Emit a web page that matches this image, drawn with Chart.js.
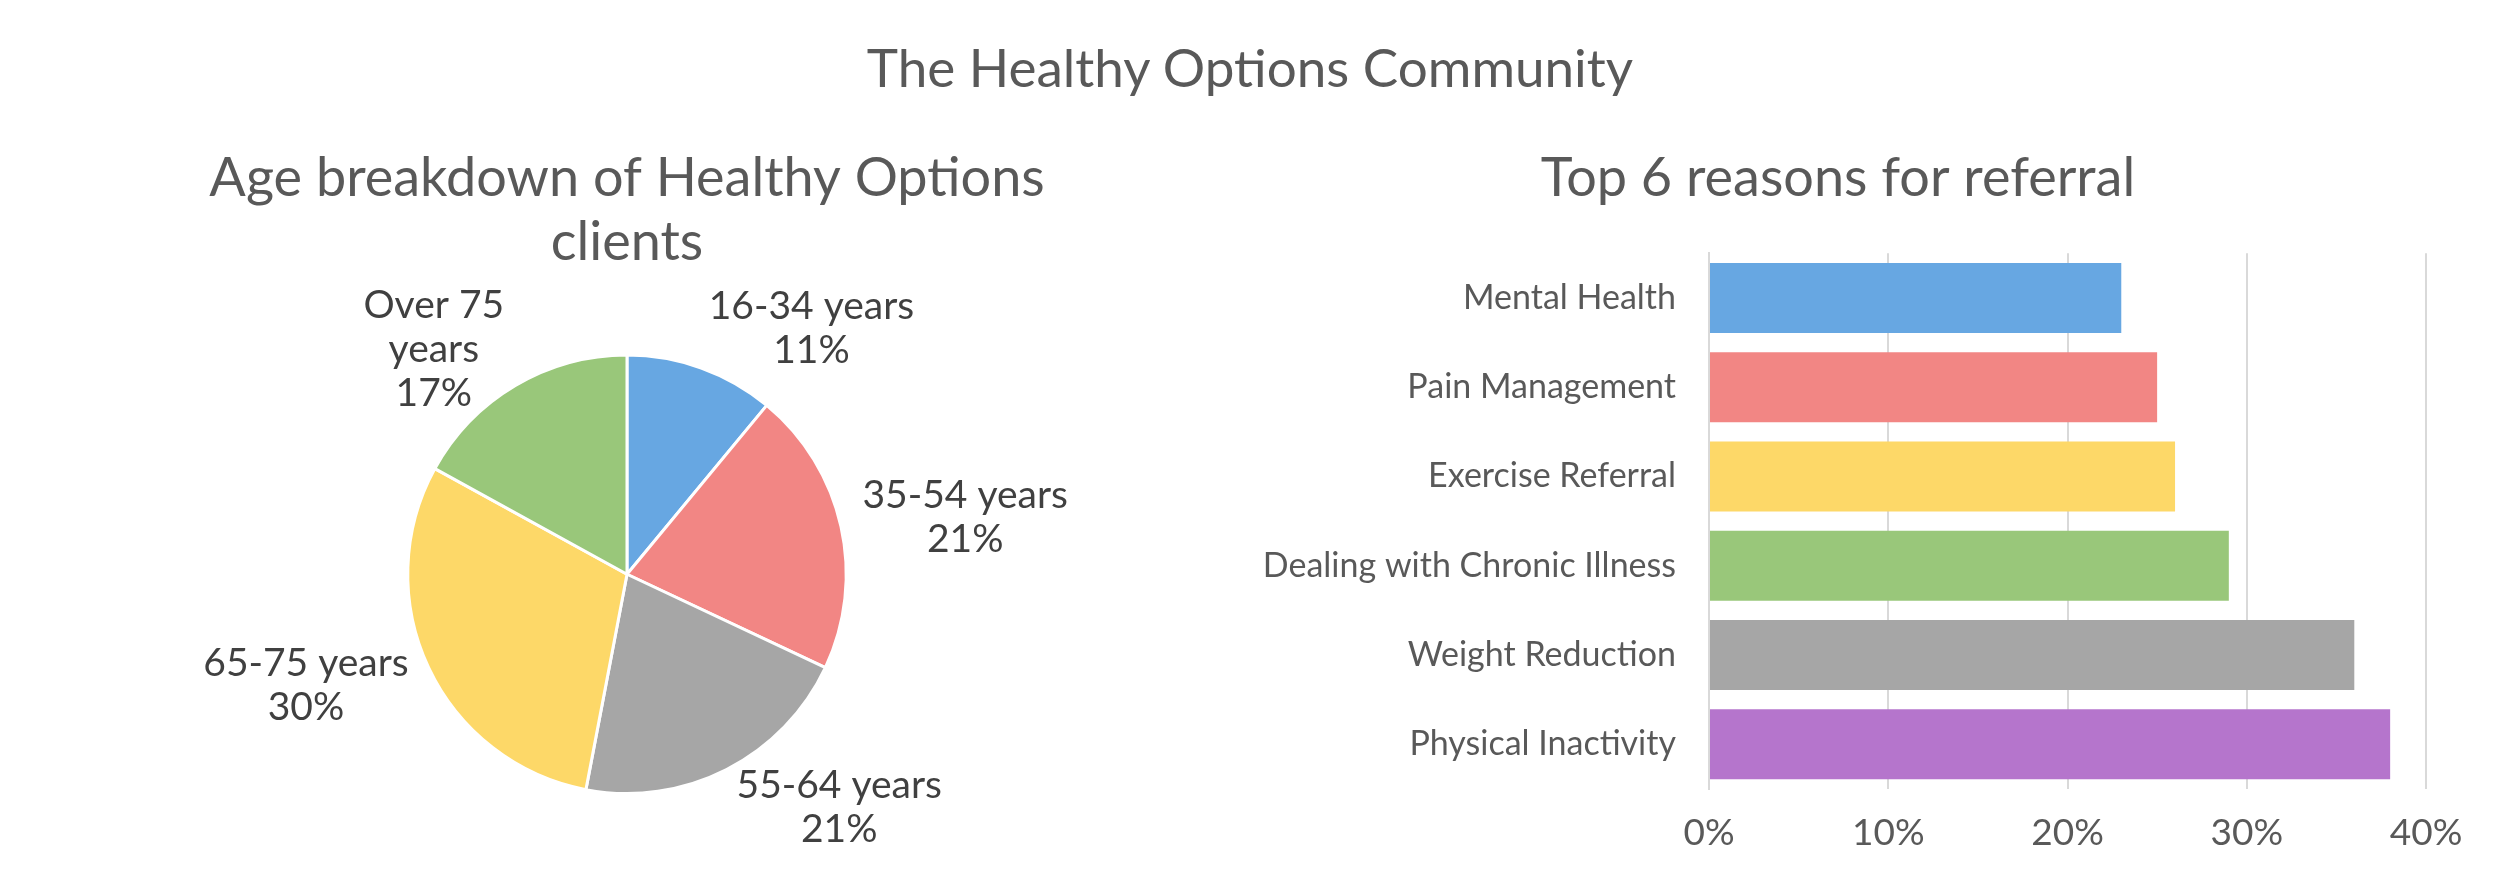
<!DOCTYPE html>
<html>
<head>
<meta charset="utf-8">
<script src="https://cdn.jsdelivr.net/npm/chart.js@4"></script>
<style>
  body { margin: 0; background: #fff; }
  #wrap { position: relative; width: 2500px; height: 874px; }
  #main-title {
    position: absolute; left: 0; top: 35px; width: 2500px;
    text-align: center; font: 53px/64px Lato, sans-serif; color: #595959;
  }
  .panel { position: absolute; top: 0; width: 1250px; height: 874px; }
</style>
</head>
<body>
<div id="wrap">
  <div id="main-title">The Healthy Options Community</div>
  <div class="panel" style="left:0"><canvas id="ageChart" width="1250" height="874"></canvas></div>
  <div class="panel" style="left:1250px"><canvas id="referralChart" width="1250" height="874"></canvas></div>
</div>
<script>
// Age breakdown (pie)
const ageLabels = ['16-34 years', '35-54 years', '55-64 years', '65-75 years', ['Over 75', 'years']];
const ageShares = [11, 21, 21, 30, 17];
const ageColors = ['#67A7E2', '#F28684', '#A6A6A6', '#FDD868', '#99C77A'];

// Top 6 reasons (horizontal bars), percent
const reasonLabels = ['Mental Health', 'Pain Management', 'Exercise Referral',
  'Dealing with Chronic Illness', 'Weight Reduction', 'Physical Inactivity'];
const reasonShares = [23, 25, 26, 29, 36, 38];
const reasonColors = ['#67A7E2', '#F28684', '#FDD868', '#99C77A', '#A6A6A6', '#B575CC'];
const xTicks = [0, 10, 20, 30, 40];

const FONT = 'Lato';
const GREY_TEXT = '#595959';

// labels outside each slice: anchor just past the rim, text box beside it
const pieLabels = {
    id: 'pieLabels',
    afterDatasetsDraw(chart) {
        const ctx = chart.ctx;
        const meta = chart.getDatasetMeta(0);
        const total = ageShares.reduce((a, b) => a + b, 0);
        const lh = 44;
        ctx.save();
        ctx.font = '39px ' + FONT;
        ctx.fillStyle = '#404040';
        ctx.textAlign = 'center';
        ctx.textBaseline = 'middle';
        meta.data.forEach((arc, i) => {
            const lines = [].concat(ageLabels[i], Math.round(ageShares[i] / total * 100) + '%');
            const w = Math.max(...lines.map(l => ctx.measureText(l).width));
            const h = lines.length * lh;
            const mid = (arc.startAngle + arc.endAngle) / 2;
            const ax = arc.x + Math.cos(mid) * (arc.outerRadius + 22);
            const ay = arc.y + Math.sin(mid) * (arc.outerRadius + 42);
            const cx = ax + Math.sign(Math.cos(mid)) * w / 2;
            lines.forEach((l, j) => ctx.fillText(l, cx, ay - h / 2 + lh * (j + 0.5)));
        });
        ctx.restore();
    }
};

new Chart(document.getElementById('ageChart'), {
    type: 'pie',
    data: {
        labels: ageLabels,
        datasets: [{
            data: ageShares,
            backgroundColor: ageColors,
            borderColor: '#fff',
            borderWidth: 3,
            hoverOffset: 0
        }]
    },
    options: {
        responsive: false,
        animation: false,
        layout: { padding: { left: 4, right: 0, bottom: 79, top: 0 } },
        plugins: {
            legend: { display: false },
            tooltip: { enabled: false },
            title: {
                display: true,
                text: ['Age breakdown of Healthy Options', 'clients'],
                color: GREY_TEXT,
                font: { family: FONT, size: 54, weight: 'normal', lineHeight: 1.19 },
                padding: { top: 146, bottom: 79 }
            }
        }
    },
    plugins: [pieLabels]
});

new Chart(document.getElementById('referralChart'), {
    type: 'bar',
    data: {
        labels: reasonLabels,
        datasets: [{
            data: reasonShares,
            backgroundColor: reasonColors,
            categoryPercentage: 1,
            barPercentage: 0.784
        }]
    },
    options: {
        indexAxis: 'y',
        responsive: false,
        animation: false,
        layout: { padding: { left: 0, right: 74, bottom: 19, top: 0 } },
        plugins: {
            legend: { display: false },
            tooltip: { enabled: false },
            title: {
                display: true,
                text: 'Top 6 reasons for referral',
                color: GREY_TEXT,
                font: { family: FONT, size: 54, weight: 'normal', lineHeight: 1.19 },
                padding: { top: 146, bottom: 43 }
            }
        },
        scales: {
            x: {
                min: xTicks[0],
                max: xTicks[xTicks.length - 1],
                afterBuildTicks: scale => { scale.ticks = xTicks.map(v => ({ value: v })); },
                afterFit: scale => { scale.height = 66; },
                grid: { color: '#D9D9D9', lineWidth: 2, drawTicks: false },
                border: { display: false },
                ticks: {
                    padding: 22,
                    maxRotation: 0,
                    color: GREY_TEXT,
                    font: { family: FONT, size: 37 },
                    callback: value => value + '%'
                }
            },
            y: {
                afterFit: scale => { scale.width = 459; },
                grid: { display: false },
                border: { display: true, color: '#D9D9D9', width: 2 },
                ticks: {
                    padding: 25,
                    color: GREY_TEXT,
                    font: { family: FONT, size: 34 }
                }
            }
        }
    }
});
</script>
</body>
</html>
